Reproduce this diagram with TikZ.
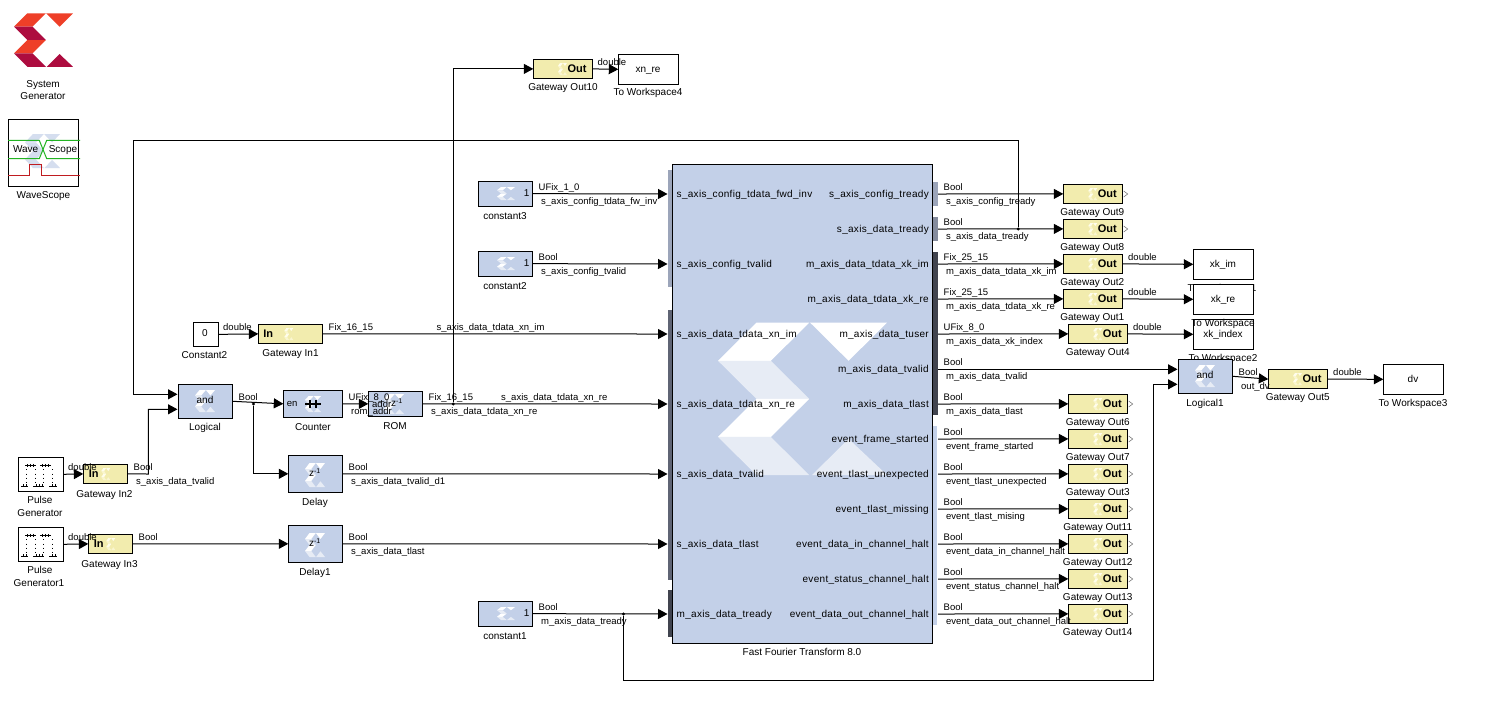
\documentclass[tikz,border=0pt]{standalone}
\usepackage{fontspec}
\setmainfont{Liberation Sans}
\newfontfamily\portfont[LetterSpace=3]{Liberation Sans}
\usetikzlibrary{arrows.meta}
\definecolor{xblue}{HTML}{C3D0E8}
\definecolor{xyel}{HTML}{F2ECAE}
\definecolor{xpaleA}{HTML}{E7ECF5}
\definecolor{ypaleA}{HTML}{FFFDEC}
\definecolor{ypaleB}{HTML}{FAF6CF}
\definecolor{xorange}{HTML}{EE3F28}
\definecolor{xcrimson}{HTML}{AD0C3F}
\definecolor{bargray}{HTML}{9CA5BA}
\definecolor{bardark}{HTML}{5F6474}
\definecolor{bardeep}{HTML}{41444F}
\definecolor{wgreen}{HTML}{22B422}
\definecolor{wred}{HTML}{C01C20}
\newcounter{autolab}
\tikzset{
  box/.style={draw=black,line width=1pt,inner sep=0pt,outer sep=0pt},
  blue/.style={box,fill=xblue},
  yel/.style={box,fill=xyel},
  wht/.style={box,fill=white},
  wire/.style={line width=1pt,-{Triangle[length=9.5pt,width=10pt]}},
  jdot/.style={circle,fill=black,inner sep=0pt,minimum size=3.2pt},
  wl/.style={font=\fontsize{9.5}{10}\selectfont,inner sep=0pt,anchor=base west},
  cl/.style={font=\fontsize{10}{11}\selectfont,inner sep=0pt,anchor=base},
  pl/.style={font=\portfont\fontsize{10}{11}\selectfont,inner sep=0pt,anchor=base west},
  pr/.style={font=\portfont\fontsize{10}{11}\selectfont,inner sep=0pt,anchor=base east},
  bold/.style={font=\fontsize{11}{12}\selectfont\bfseries,inner sep=0pt,anchor=base},
}
% block from its corners
\newcommand{\blk}[6][blue]{%
  \pgfmathsetmacro{\bw}{(#5)-(#3)}\pgfmathsetmacro{\bh}{(#6)-(#4)}%
  \pgfmathsetmacro{\bx}{((#3)+(#5))/2}\pgfmathsetmacro{\by}{((#4)+(#6))/2}%
  \node[#1,minimum width=\bw pt,minimum height=\bh pt] (#2) at (\bx,\by) {};}
% logo at corner x,y with width, height, two colours
\newcommand{\xlogo}[6]{%
  \pgfmathsetmacro{\sx}{#3/176}\pgfmathsetmacro{\sy}{#4/160}%
  \begin{scope}[shift={(#1,#2)},xscale=\sx,yscale=\sy]
    \fill[#5] (40,0)--(95,0)--(55,40)--(0,40)--cycle;
    \fill[#6] (0,40)--(55,40)--(95,80)--(40,80)--cycle;
    \fill[#5] (40,80)--(95,80)--(55,120)--(0,120)--cycle;
    \fill[#6] (0,120)--(55,120)--(95,160)--(40,160)--cycle;
    \fill[#5] (96,0)--(176,0)--(136,40)--cycle;
    \fill[#6] (98,160)--(136,122)--(176,160)--cycle;
  \end{scope}}
% text helpers: every text is a named node
\newcommand{\lab}[4][wl]{\stepcounter{autolab}\node[#1] (t\theautolab) at (#2,#3+3.3) {#4};}
\newcommand{\pulse}[2]{%
  \begin{scope}[shift={(#1,#2)},line width=.6pt]
    \foreach \xa/\xb in {7/17.5,21.5/33}{\draw (\xa,8)--(\xb,8);}
    \foreach \tx in {9,12,15,24,27,30}{\draw (\tx,6.5)--(\tx,9.5);}
    \foreach \tx in {8,16.5,25,33.5}{\draw[dash pattern=on 1pt off 3.2pt] (\tx,12)--(\tx,25);}
    \foreach \xa/\xb in {2.5/10,15/26,31/38.5}{\draw (\xa,28.5)--(\xb,28.5);}
    \foreach \tx in {5,8,18,21,24,34,37}{\draw (\tx,27)--(\tx,30);}
  \end{scope}}
\newcommand{\gwin}[6]{% name x1 row width logo-x in-x
  \blk[yel]{#1}{#2}{#3-9.7}{#2+#4}{#3+9.5}
  \xlogo{#2+#5}{#3-6}{9}{12}{ypaleA}{ypaleB}
  \lab[bold]{#2+#6}{#3+.5}{In}}
\newcommand{\gwout}[3]{% name x1 row
  \blk[yel]{#1}{#2}{#3-9.7}{#2+59.4}{#3+9.5}
  \xlogo{#2+25}{#3-6}{9}{12}{ypaleA}{ypaleB}
  \lab[bold]{#2+44}{#3+.5}{Out}}
\newcommand{\openport}[2]{\draw[line width=.5pt,black!60] (#1+1,#2-3)--(#1+5,#2)--(#1+1,#2+3);}
\begin{document}
\catcode`\_=12
\begin{tikzpicture}[x=1pt,y=-1pt]
\fill[white] (0,0) rectangle (1485,713);
\useasboundingbox (0,0) rectangle (1485,713);

% ---- System Generator
\xlogo{14}{13.3}{59}{53.5}{xorange}{xcrimson}
\lab[cl]{43}{84}{System}
\lab[cl]{43}{96}{Generator}

% ---- WaveScope
\blk[wht]{wave}{8.3}{119.3}{78.7}{186}
\xlogo{25}{134}{35}{34}{xblue!70}{xblue!70}
\draw[wgreen,line width=1pt] (8,140.3)--(39.3,140.3)--(46.7,158.7)--(80,158.7);
\draw[wgreen,line width=1pt] (8,158.7)--(39.3,158.7)--(46.7,140.3)--(80,140.3);
\draw[wred,line width=1pt] (8,175)--(29.3,175)--(29.3,164.3)--(41.7,164.3)--(41.7,175)--(80,175);
\lab[cl]{25.7}{149.5}{Wave}
\lab[cl]{63}{149.5}{Scope}
\lab[cl]{43.5}{195.5}{WaveScope}

% ---- FFT core
\fill[bargray] (667.8,170) rectangle (673,287);
\fill[bardark] (667.8,310) rectangle (673,580);
\fill[bardeep] (667.8,590) rectangle (673,637);
\fill[bargray] (932,182) rectangle (937.5,206);
\fill[bargray!85!black] (932,217) rectangle (937.5,241);
\fill[bardeep] (932,252) rectangle (937.5,415);
\fill[xblue] (932,426) rectangle (937,625);
\blk{fft}{672.3}{164.5}{932.7}{643.3}
\xlogo{718}{322.7}{169}{152.3}{white}{xpaleA}
\lab[cl]{802}{652}{Fast Fourier Transform 8.0}
\foreach \yy/\pn in {194/s_axis_config_tdata_fwd_inv,264/s_axis_config_tvalid,334/s_axis_data_tdata_xn_im,404/s_axis_data_tdata_xn_re,474/s_axis_data_tvalid,544/s_axis_data_tlast,614/m_axis_data_tready}{
  \lab[pl]{676.5}{\yy}{\pn}
  \coordinate (fi\yy) at (667.5,\yy);
}

% ---- left side sources
\blk[blue]{cthree}{478.3}{181.3}{532.3}{206}
\xlogo{497}{187}{18}{13}{white}{xpaleA}
\lab[cl]{526.7}{193.5}{1}
\lab[cl]{505}{216}{constant3}
\blk[blue]{ctwo}{478.3}{251.3}{532.3}{276}
\xlogo{497}{257}{18}{13}{white}{xpaleA}
\lab[cl]{526.7}{263.5}{1}
\lab[cl]{505}{286}{constant2}
\blk[blue]{cone}{478.3}{601.3}{532.3}{626}
\xlogo{497}{607}{18}{13}{white}{xpaleA}
\lab[cl]{526.7}{613.5}{1}
\lab[cl]{505}{636}{constant1}

\blk[wht]{czero}{193.3}{322.7}{218.3}{346}
\lab[cl]{205}{333.5}{0}
\lab[cl]{204.5}{355}{Constant2}
\gwin{gin1}{258.3}{334}{64.4}{26}{10}
\lab[cl]{290.5}{353}{Gateway In1}

\blk[blue]{logical}{178.3}{384.3}{232.7}{418.3}
\xlogo{195}{390}{20}{22}{white}{xpaleA}
\lab[cl]{205}{400}{and}
\lab[cl]{205}{427.5}{Logical}
\coordinate (lga) at (177.5,394.3);
\coordinate (lgb) at (177.5,409.3);

\blk[blue]{counter}{283.3}{390.3}{342.7}{417.3}
\xlogo{305}{396}{16}{16}{white}{xpaleA}
\lab[wl]{286.7}{403.5}{en}
\draw[line width=1.1pt] (305,404)--(321,404) (310,400)--(310,408.3) (316,400)--(316,408.3);
\lab[cl]{313}{427}{Counter}

\blk[blue]{rom}{368.3}{391}{422.7}{416.7}
\xlogo{384}{394}{20}{20}{white}{xpaleA}
\lab[cl]{397}{403.5}{z\textsuperscript{-1}}
\lab[wl]{372}{404.5}{addr}
\lab[cl]{395}{425.7}{ROM}

\blk[blue]{delay}{288.3}{455.3}{342.7}{492.3}
\xlogo{305}{463}{20}{24}{white}{xpaleA}
\lab[cl]{315}{473.5}{z\textsuperscript{-1}}
\lab[cl]{315}{502}{Delay}
\blk[blue]{delayone}{288.3}{525.3}{342.7}{562.3}
\xlogo{305}{533}{20}{24}{white}{xpaleA}
\lab[cl]{315}{543.5}{z\textsuperscript{-1}}
\lab[cl]{315}{572}{Delay1}

\blk[wht]{pulsea}{18.3}{457.3}{63.3}{491.3}
\pulse{18.3}{457.3}
\lab[cl]{40}{500}{Pulse}
\lab[cl]{40}{513}{Generator}
\blk[wht]{pulseb}{18.3}{527.3}{63.3}{561.3}
\pulse{18.3}{527.3}
\lab[cl]{40}{570}{Pulse}
\lab[cl]{39}{583}{Generator1}
\gwin{gin2}{83.3}{474}{44.4}{18}{10.5}
\lab[cl]{104.5}{494.5}{Gateway In2}
\gwin{gin3}{88.3}{544}{44.4}{18}{10.5}
\lab[cl]{109.5}{564.5}{Gateway In3}

% ---- top gateway
\blk[yel]{gout10}{533.3}{59.3}{592.7}{78.5}
\xlogo{558}{63}{9}{12}{ypaleA}{ypaleB}
\lab[bold]{577}{69.5}{Out}
\lab[cl]{563}{87.5}{Gateway Out10}
\blk[wht]{ws4}{618.3}{54.3}{678.3}{84.3}
\lab[cl]{648}{69}{xn_re}
\lab[cl]{648}{92.5}{To Workspace4}

% ---- right gateways
\foreach \nm/\xx/\yy/\lb/\lx in {g9/1063.3/194/Gateway Out9/1092.3,g8/1063.3/229/Gateway Out8/1092.3,g2/1063.3/264/Gateway Out2/1092.3,g1/1063.3/299/Gateway Out1/1092.3,g4/1068.3/334/Gateway Out4/1097.7,g6/1068.3/404/Gateway Out6/1097.7,g7/1068.3/439/Gateway Out7/1097.7,g3/1068.3/474/Gateway Out3/1097.7,g11/1068.3/509/Gateway Out11/1097.7,g12/1068.3/544/Gateway Out12/1097.7,g13/1068.3/579/Gateway Out13/1097.7,g14/1068.3/614/Gateway Out14/1097.7}{
  \pgfmathsetmacro{\ly}{\yy+18.5}
  \lab[cl]{\lx}{\ly}{\lb}
  \gwout{\nm}{\xx}{\yy}
}
\foreach \xx/\yy in {1122.7/194,1122.7/229,1127.7/404,1127.7/439,1127.7/474,1127.7/509,1127.7/544,1127.7/579,1127.7/614}{\openport{\xx}{\yy}}

% ---- workspaces (stacking order matters: the labels run under the next box)
\blk[wht]{xkim}{1193.3}{249.3}{1253.3}{279.3}
\lab[cl]{1223}{264.5}{xk_im}
\lab[cl]{1222}{288}{To Workspace1}
\blk[wht]{xkre}{1193.3}{284.3}{1253.3}{314.3}
\lab[cl]{1223}{299.5}{xk_re}
\blk[wht]{xkidx}{1193.3}{319.3}{1253.3}{349.3}
\lab[cl]{1223}{323}{To Workspace}
\lab[cl]{1223}{334.5}{xk_index}
\lab[cl]{1223}{358.5}{To Workspace2}

\blk[blue]{logicalb}{1178.3}{359.3}{1232.7}{393.3}
\xlogo{1195}{365}{20}{22}{white}{xpaleA}
\lab[cl]{1205}{375}{and}
\lab[cl]{1205}{403}{Logical1}
\coordinate (lba) at (1177.5,369.3);
\coordinate (lbb) at (1177.5,384.3);
\blk[yel]{gout5}{1268.3}{369.5}{1327.7}{388.7}
\xlogo{1293}{373}{9}{12}{ypaleA}{ypaleB}
\lab[bold]{1312}{379.5}{Out}
\lab[cl]{1297.7}{397.3}{Gateway Out5}
\blk[wht]{ws3}{1383.3}{364.3}{1443.3}{394.3}
\lab[cl]{1413}{379}{dv}
\lab[cl]{1413}{403}{To Workspace3}

% ---- wires
\draw[wire] (cthree.east) -- (fi194);
\draw[wire] (ctwo.east) -- (fi264);
\draw[wire] (cone.east) -- (fi614);
\draw[wire] (czero.east) -- (gin1.west);
\draw[wire] (gin1.east) -- (fi334);
\draw[wire] (logical.east) -- (counter.west);
\draw[wire] (counter.east) -- (rom.west);
\draw[wire] (rom.east) -- (fi404);
\draw[wire] (delay.east) -- (fi474);
\draw[wire] (delayone.east) -- (fi544);
\draw[wire] (pulsea.east) -- (gin2.west);
\draw[wire] (pulseb.east) -- (gin3.west);
\draw[wire] (gin3.east) -- (delayone.west);
\coordinate (bend) at (148.3,474);
\draw[wire] (gin2.east) -- (bend) |- (lgb);
\node[jdot] (ja) at (253.5,404) {};
\draw[wire] (ja) |- (delay.west);
\node[jdot] (jb) at (453.3,404) {};
\draw[wire] (jb) |- (gout10.west);
\draw[wire] (gout10.east) -- (ws4.west);
\node[jdot] (jc) at (1018.3,229) {};
\coordinate (fbk) at (133.5,140);
\draw[wire] (jc) |- (fbk) |- (lga);
\node[jdot] (jd) at (623.5,614) {};
\coordinate (loop) at (1153.5,680);
\draw[wire] (jd) |- (loop) |- (lbb);
\foreach \yy/\tg in {194/g9,229/g8,264/g2,299/g1,334/g4,404/g6,439/g7,474/g3,509/g11,544/g12,579/g13,614/g14}{
  \coordinate (fo\yy) at (938,\yy);
  \draw[wire] (fo\yy) -- (\tg.west);
}
\coordinate (fo369) at (938,369.3);
\draw[wire] (fo369) -- (lba);
\draw[wire] (g2.east) -- (xkim.west);
\draw[wire] (g1.east) -- (xkre.west);
\draw[wire] (g4.east) -- (xkidx.west);
\draw[wire] (logicalb.east) -- (gout5.west);
\draw[wire] (gout5.east) -- (ws3.west);

% ---- right port names and signal labels
\foreach \yy/\pn/\ty/\sg in {194/s_axis_config_tready/Bool/s_axis_config_tready,229/s_axis_data_tready/Bool/s_axis_data_tready,264/m_axis_data_tdata_xk_im/Fix_25_15/m_axis_data_tdata_xk_im,299/m_axis_data_tdata_xk_re/Fix_25_15/m_axis_data_tdata_xk_re,334/m_axis_data_tuser/UFix_8_0/m_axis_data_xk_index,369/m_axis_data_tvalid/Bool/m_axis_data_tvalid,404/m_axis_data_tlast/Bool/m_axis_data_tlast,439/event_frame_started/Bool/event_frame_started,474/event_tlast_unexpected/Bool/event_tlast_unexpected,509/event_tlast_missing/Bool/event_tlast_mising,544/event_data_in_channel_halt/Bool/event_data_in_channel_halt,579/event_status_channel_halt/Bool/event_status_channel_halt,614/event_data_out_channel_halt/Bool/event_data_out_channel_halt}{
  \lab[pr]{929}{\yy}{\pn}
  \pgfmathsetmacro{\ya}{\yy-7}\pgfmathsetmacro{\yb}{\yy+7}
  \lab[wl]{943.5}{\ya}{\ty}
  \lab[wl]{946}{\yb}{\sg}
}
\lab[wl]{538.5}{187}{UFix_1_0}
\lab[wl]{541}{201}{s_axis_config_tdata_fw_inv}
\lab[wl]{538.5}{257}{Bool}
\lab[wl]{541}{271}{s_axis_config_tvalid}
\lab[wl]{538.5}{607}{Bool}
\lab[wl]{541}{621}{m_axis_data_tready}
\lab[wl]{223}{327}{double}
\lab[wl]{328.5}{327.5}{Fix_16_15}
\lab[wl]{436.5}{327.5}{s_axis_data_tdata_xn_im}
\lab[wl]{238.5}{397.5}{Bool}
\lab[wl]{348.5}{397.5}{UFix_8_0}
\lab[wl]{351}{411}{rom_addr}
\lab[wl]{428.5}{397.5}{Fix_16_15}
\lab[wl]{501}{397.5}{s_axis_data_tdata_xn_re}
\lab[wl]{431}{411}{s_axis_data_tdata_xn_re}
\lab[wl]{348.5}{467.5}{Bool}
\lab[wl]{351}{481}{s_axis_data_tvalid_d1}
\lab[wl]{348.5}{537.5}{Bool}
\lab[wl]{351}{551}{s_axis_data_tlast}
\lab[wl]{68}{467.5}{double}
\lab[wl]{133.5}{467.5}{Bool}
\lab[wl]{136}{481}{s_axis_data_tvalid}
\lab[wl]{68}{537.5}{double}
\lab[wl]{138.5}{537.5}{Bool}
\lab[wl]{597.5}{62.5}{double}
\lab[wl]{1128}{257.5}{double}
\lab[wl]{1128}{292.5}{double}
\lab[wl]{1133}{327.5}{double}
\lab[wl]{1238.5}{372.5}{Bool}
\lab[wl]{1241}{386}{out_dv}
\lab[wl]{1333}{372.5}{double}
\end{tikzpicture}
\end{document}
